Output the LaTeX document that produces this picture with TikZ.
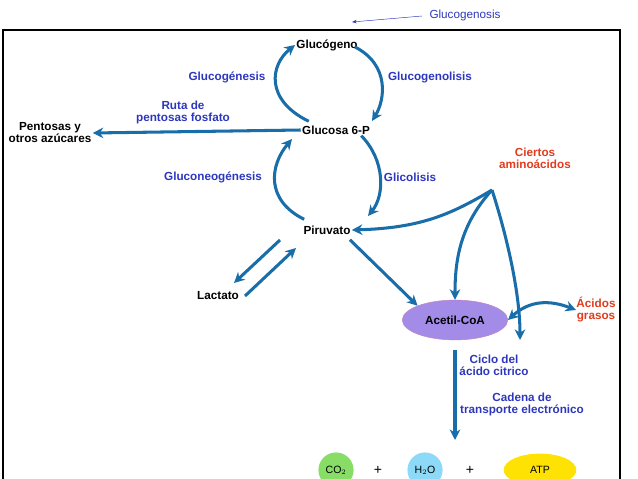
\documentclass[tikz,border=0pt]{standalone}
\usepackage{fontspec}
\setmainfont{Liberation Sans}
\setsansfont{Liberation Sans}
\usetikzlibrary{arrows.meta,shapes.geometric}
\definecolor{flecha}{RGB}{25,110,170}
\definecolor{azul}{RGB}{45,55,190}
\definecolor{rojo}{RGB}{225,60,30}
\begin{document}
\begin{tikzpicture}[x=0.03cm,y=-0.03cm]
			\tikzstyle{every node}+=[inner sep=1pt,font=\sffamily\normalsize\bfseries]
			\tikzstyle{ruta}=[draw=flecha,line width=2.6pt,-{Stealth[length=9pt,width=9pt]}]
			\tikzstyle{enz}=[text=azul,align=center,font=\sffamily\normalsize\bfseries\linespread{0.85}\selectfont]
			\useasboundingbox (0,0) rectangle (638,479);
			\begin{scope}
			\clip (0,0) rectangle (638,479);
			\draw [black,line width=2.5pt] (3,500) -- (3,30) -- (620,30) -- (620,500);
			\node (glucogenosis) at (465,15) [font=\sffamily\normalsize,text=azul] {Glucogenosis};
			\coordinate (marco) at (352,22);
			\draw [azul,-{Stealth[length=4pt]}] (glucogenosis.west) ++(-6,1) -- (marco);
			\node (glucogeno) at (327,45) {Gluc\'ogeno};
			\node (glucosa) at (336,130) {Glucosa 6-P};
			\node (piruvato) at (327,230) {Piruvato};
			\node (lactato) at (218,296) {Lactato};
			\node (pentosas) at (50,133) [align=center,font=\sffamily\normalsize\bfseries\linespread{0.85}\selectfont] {Pentosas y\\otros az\'ucares};
			\node (acetil) at (455,320) [ellipse,minimum width=90,minimum height=34,draw=violet!50,fill=violet!40!blue!45,font=\sffamily\normalsize\bfseries] {Acetil-CoA};
			\node (co2) at (336,470) [circle,minimum size=30,fill=green!55!olive!60,font=\sffamily\small] {CO$_2$};
			\node (mas1) at (378,470) [font=\sffamily\large] {+};
			\node (h2o) at (425,470) [circle,minimum size=30,fill=cyan!45,font=\sffamily\small] {H$_2$O};
			\node (mas2) at (470,470) [font=\sffamily\large] {+};
			\node (atp) at (540,470) [ellipse,minimum width=62,minimum height=28,fill=yellow!85!orange,font=\sffamily\small] {ATP};
			% etiquetas
			\node (tglucogenesis) at (227,77) [enz] {Glucog\'enesis};
			\node (tglucogenolisis) at (430,77) [enz] {Glucogenolisis};
			\node (truta) at (183,112) [enz] {Ruta de\\pentosas fosfato};
			\node (tgluconeo) at (213,177) [enz] {Gluconeog\'enesis};
			\node (tglicolisis) at (410,177) [enz] {Glicolisis};
			\node (taminoacidos) at (535,158) [enz,text=rojo] {Ciertos\\amino\'acidos};
			\node (tacidos) at (596,310) [enz,text=rojo] {\'Acidos\\grasos};
			\node (tciclo) at (494,365) [enz] {Ciclo del\\\'acido citrico};
			\node (tcadena) at (522,404) [enz] {Cadena de\\transporte electr\'onico};
			% flechas
			\draw [ruta] (glucosa.north west) ++(8,-3) .. controls (265,100) and (270,65) .. (glucogeno.west);
			\draw [ruta] (glucogeno.east) ++(-4,2) .. controls (390,65) and (385,100) .. (372,121);
			\draw [ruta] (glucosa.west) -- (pentosas.east);
			\draw [ruta] (piruvato.north west) ++(2,-5) .. controls (265,200) and (270,165) .. (292,139);
			\draw [ruta] (glucosa.south east) ++(-10,0) .. controls (385,160) and (385,195) .. (368,216);
			\coordinate (alactato) at (234,283);
			\draw [ruta] (280,240) -- (alactato);
			\draw [ruta] (245,296) -- (296,248);
			\draw [ruta] (piruvato.south east) ++(-2,4) -- (acetil.north west);
			\coordinate (rama) at (492,190);
			\draw [ruta] (rama) .. controls (450,215) and (420,228) .. (piruvato.east);
			\draw [ruta] (rama) .. controls (460,225) and (455,260) .. (acetil.north);
			\draw [ruta] (rama) .. controls (505,230) and (520,290) .. (520,340);
			\draw [ruta,{Stealth[length=9pt,width=9pt]}-{Stealth[length=9pt,width=9pt]}] (acetil.east) .. controls (530,300) and (550,300) .. (576,310);
			\draw [ruta] (acetil.south) ++(0,10) -- (455,440);
			\end{scope}
			\end{tikzpicture}
\end{document}
